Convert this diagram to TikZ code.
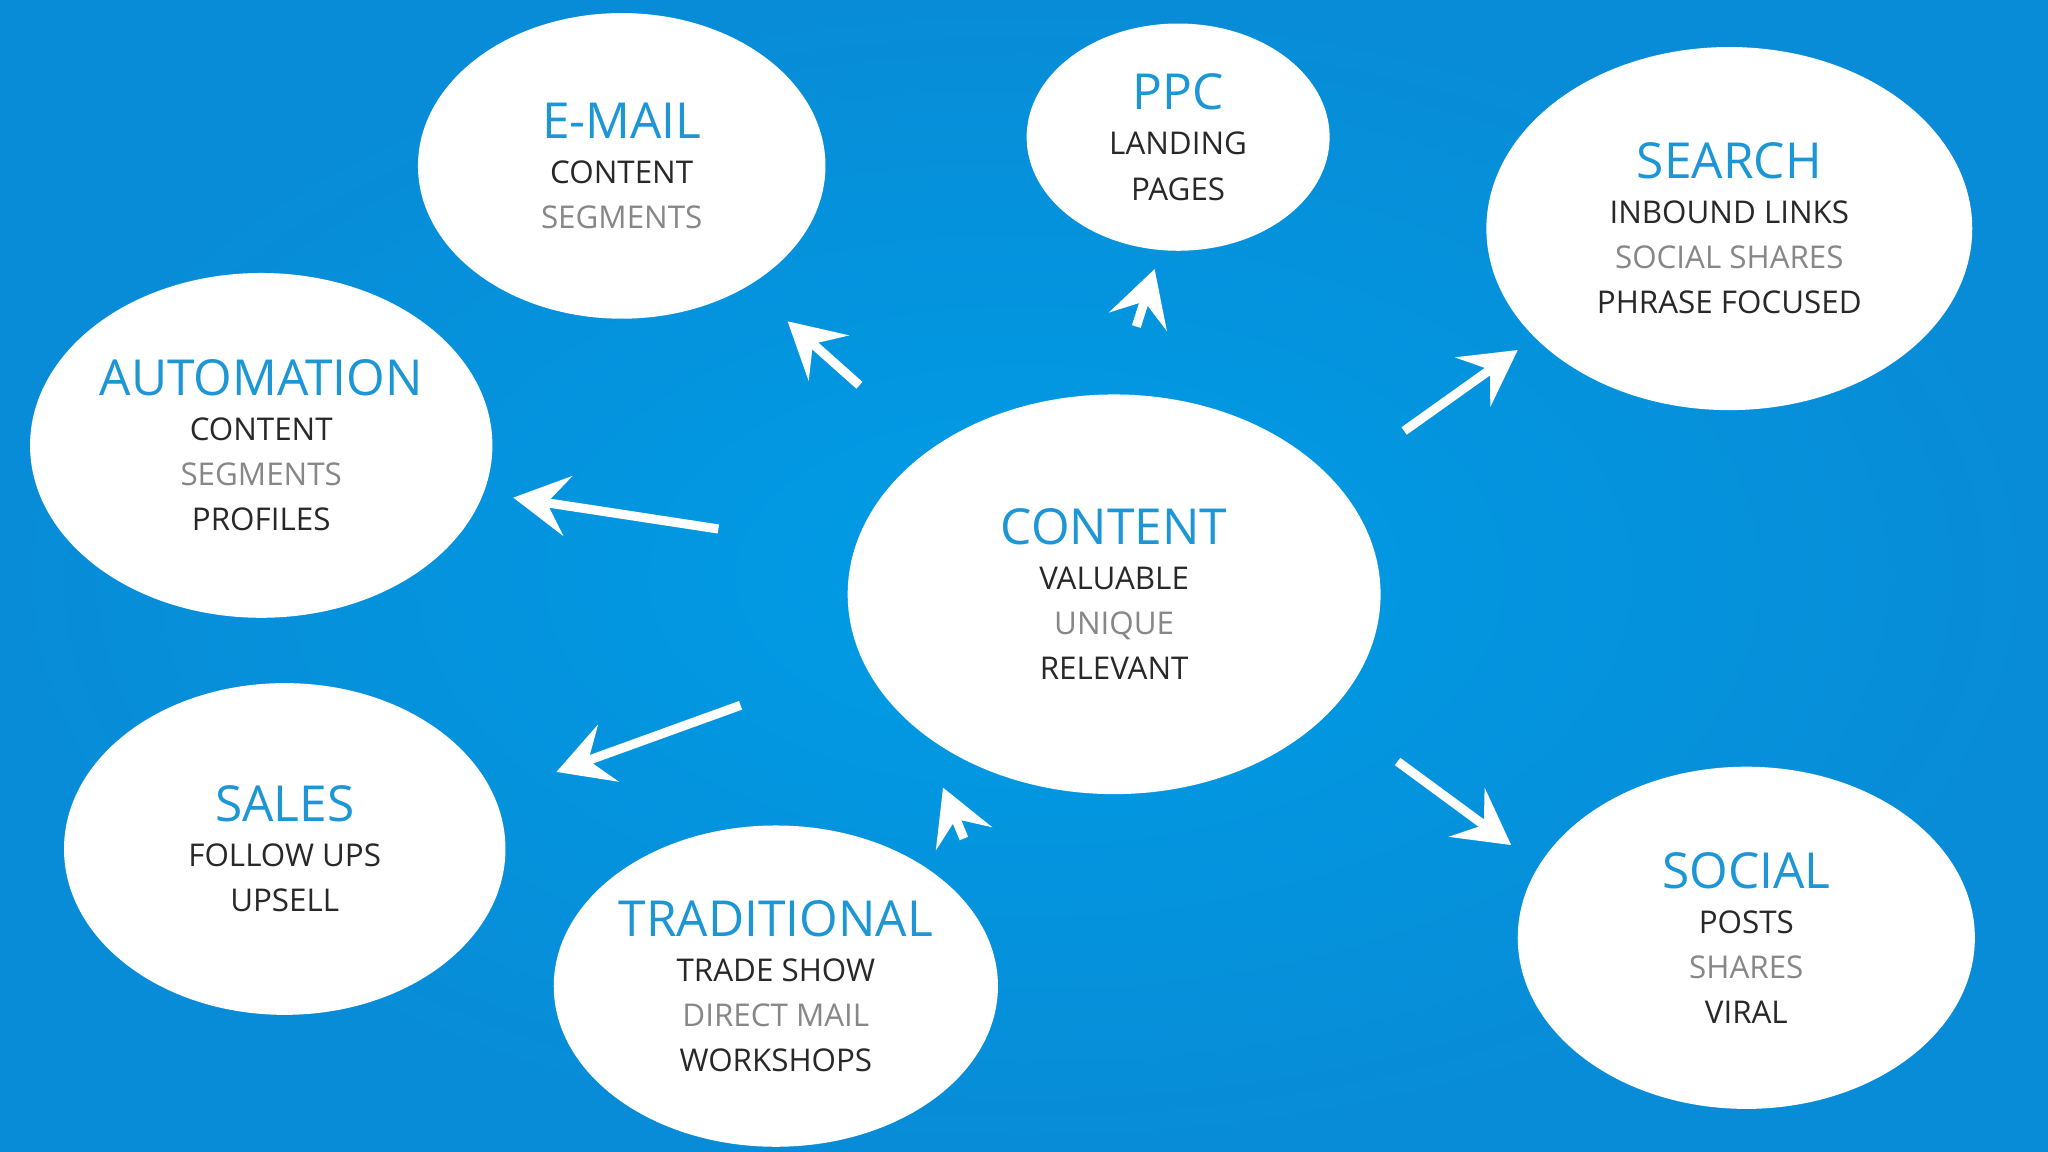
\documentclass[tikz,border=0pt]{standalone}
\usepackage{fontspec}
\setmainfont{Open Sans}
\usetikzlibrary{arrows.meta}
\definecolor{bgblue}{RGB}{8,140,215}
\definecolor{bgmid}{RGB}{0,156,230}
\definecolor{ttl}{RGB}{28,150,212}
\definecolor{dk}{RGB}{40,40,40}
\definecolor{gr}{RGB}{135,135,135}
\tikzset{
 bubble/.style={ellipse, fill=white, inner sep=0pt, align=center, font=\fontsize{24}{34.5}\selectfont, text=dk},
 arr/.style={white, line width=7pt, -{Stealth[length=42pt,width=46pt,inset=16pt]}},
}
\newcommand{\ttlx}[1]{{\color{ttl}\fontsize{38}{44}\selectfont #1}}
\newcommand{\grx}[1]{{\color{gr}#1}}
\usetikzlibrary{shapes.geometric}
\begin{document}
\begin{tikzpicture}[x=1pt,y=-1pt]
\useasboundingbox (0,0) rectangle (1568,882);
\shade[inner color=bgmid, outer color=bgblue] (0,0) rectangle (1568,882);
\node[bubble, minimum width=312pt, minimum height=234pt] (email) at (476,127) {\ttlx{E-MAIL}\\CONTENT\\\grx{SEGMENTS}};
\node[bubble, minimum width=232pt, minimum height=174pt] (ppc) at (902,105) {\ttlx{PPC}\\LANDING\\PAGES};
\node[bubble, minimum width=372pt, minimum height=278pt] (search) at (1324,175) {\ttlx{SEARCH}\\INBOUND LINKS\\\grx{SOCIAL SHARES}\\PHRASE FOCUSED};
\node[bubble, minimum width=354pt, minimum height=264pt] (auto) at (200,341) {\ttlx{AUTOMATION}\\CONTENT\\\grx{SEGMENTS}\\PROFILES};
\node[bubble, minimum width=408pt, minimum height=306pt] (content) at (853,455) {\ttlx{CONTENT}\\VALUABLE\\\grx{UNIQUE}\\RELEVANT};
\node[bubble, minimum width=338pt, minimum height=254pt] (sales) at (218,650) {\ttlx{SALES}\\FOLLOW UPS\\UPSELL};
\node[bubble, minimum width=330pt, minimum height=246pt] (trad) at (594,755) {\ttlx{TRADITIONAL}\\TRADE SHOW\\\grx{DIRECT MAIL}\\WORKSHOPS};
\node[bubble, minimum width=350pt, minimum height=262pt] (social) at (1337,718) {\ttlx{SOCIAL}\\POSTS\\\grx{SHARES}\\VIRAL};
\coordinate (e1) at (658,295); \coordinate (e2) at (603,246);
\coordinate (p1) at (870,250); \coordinate (p2) at (884,206);
\coordinate (s1) at (1075,330); \coordinate (s2) at (1162,268);
\coordinate (a1) at (550,405); \coordinate (a2) at (393,381);
\coordinate (l1) at (567,540); \coordinate (l2) at (426,591);
\coordinate (t1) at (738,642); \coordinate (t2) at (722,603);
\coordinate (o1) at (1070,583); \coordinate (o2) at (1157,647);
\draw[arr] (e1) -- (e2);
\draw[arr] (p1) -- (p2);
\draw[arr] (s1) -- (s2);
\draw[arr] (a1) -- (a2);
\draw[arr] (l1) -- (l2);
\draw[arr] (t1) -- (t2);
\draw[arr] (o1) -- (o2);
\end{tikzpicture}
\end{document}
